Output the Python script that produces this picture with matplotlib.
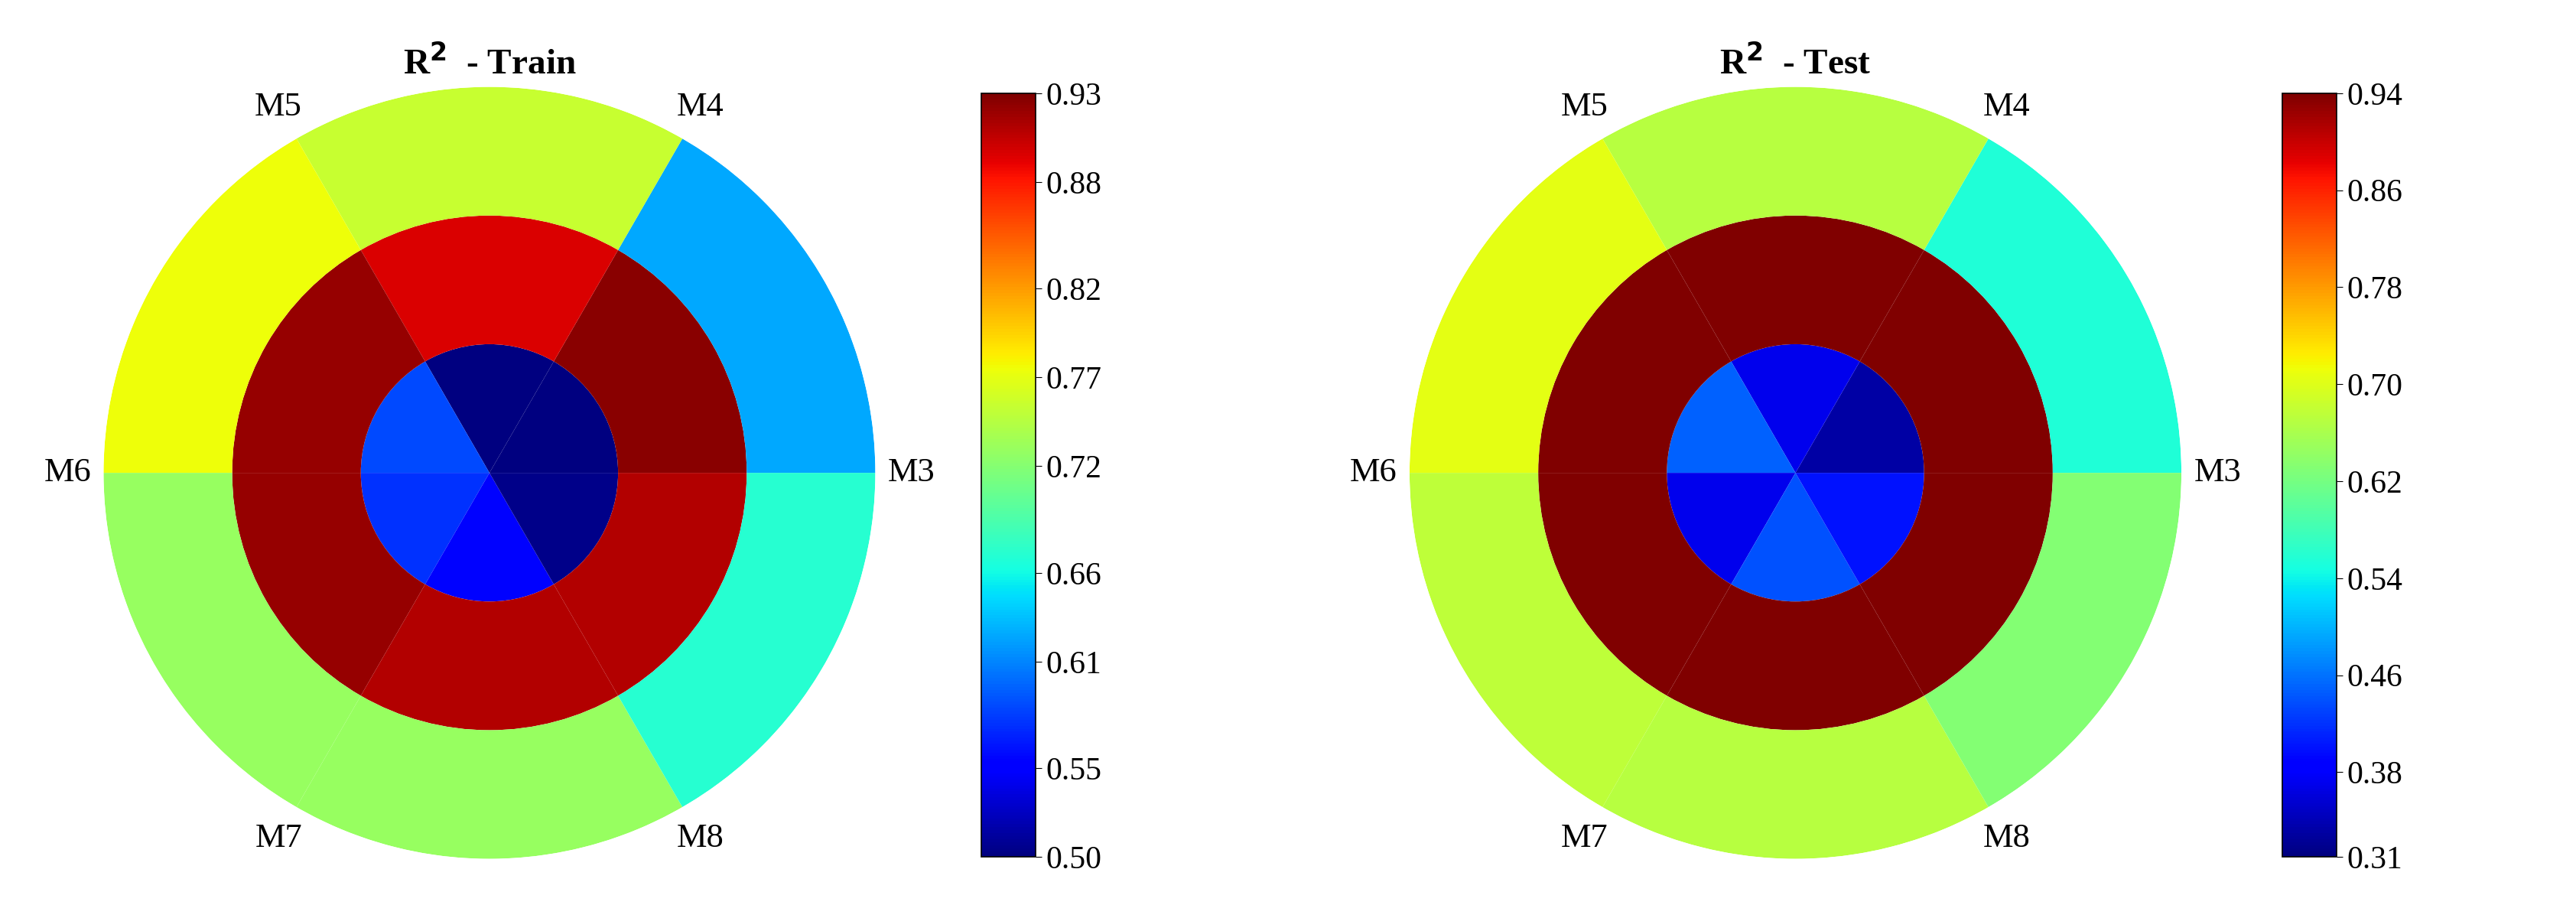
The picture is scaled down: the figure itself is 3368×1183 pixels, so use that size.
import numpy as np
import matplotlib
matplotlib.use("Agg")
import matplotlib.pyplot as plt
from matplotlib.colors import Normalize

plt.rcParams['font.family'] = ['Liberation Serif', 'DejaVu Serif']

models = ["M3", "M4", "M5", "M6", "M7", "M8"]
# sectors start at each label angle (M3=0°, counterclockwise)
train_outer = [0.625, 0.755, 0.775, 0.73, 0.73, 0.67]
train_middle = [0.925, 0.895, 0.920, 0.920, 0.910, 0.910]
train_inner = [0.50, 0.50, 0.585, 0.575, 0.555, 0.505]
test_outer = [0.555, 0.67, 0.705, 0.675, 0.67, 0.63]
test_middle = [0.94, 0.94, 0.94, 0.94, 0.94, 0.94]
test_inner = [0.33, 0.37, 0.45, 0.37, 0.44, 0.40]
train_ticks = [0.50, 0.55, 0.61, 0.66, 0.72, 0.77, 0.82, 0.88, 0.93]
test_ticks = [0.31, 0.38, 0.46, 0.54, 0.62, 0.70, 0.78, 0.86, 0.94]

fig = plt.figure(figsize=(33.68, 11.83), dpi=100)
cmap = plt.get_cmap('jet')

def draw(rect, crect, rings, ticks, title):
    ax = fig.add_axes(rect, projection='polar')
    norm = Normalize(ticks[0], ticks[-1])
    width = 2 * np.pi / 6
    theta = np.arange(6) * width
    for r0, vals in enumerate(rings):
        ax.bar(theta, 1.0, width=width, bottom=r0, align='edge',
               color=cmap(norm(np.array(vals))), edgecolor='none', linewidth=0)
    ax.set_ylim(0, 3)
    ax.set_xticks([]); ax.set_yticks([])
    ax.spines['polar'].set_visible(False)
    ax.grid(False)
    for k, m in enumerate(models):
        ax.text(theta[k], 3.28, m, ha='center', va='center', fontsize=32)
    ax.set_title(title, fontsize=34, fontweight='bold', pad=12)
    cax = fig.add_axes(crect)
    sm = plt.cm.ScalarMappable(norm=norm, cmap=cmap)
    cb = fig.colorbar(sm, cax=cax, ticks=ticks)
    cb.ax.set_yticklabels([f"{t:.2f}" for t in ticks])
    cb.ax.tick_params(labelsize=30, length=6)
    cb.outline.set_linewidth(1.2)

draw([0.04, 0.051, 0.30, 0.853], [0.381, 0.053, 0.021, 0.844],
     [train_inner, train_middle, train_outer], train_ticks, r"R$^\mathbf{2}$  - Train")
draw([0.547, 0.051, 0.30, 0.853], [0.886, 0.053, 0.021, 0.844],
     [test_inner, test_middle, test_outer], test_ticks, r"R$^\mathbf{2}$  - Test")

fig.savefig("out.png", dpi=100)
